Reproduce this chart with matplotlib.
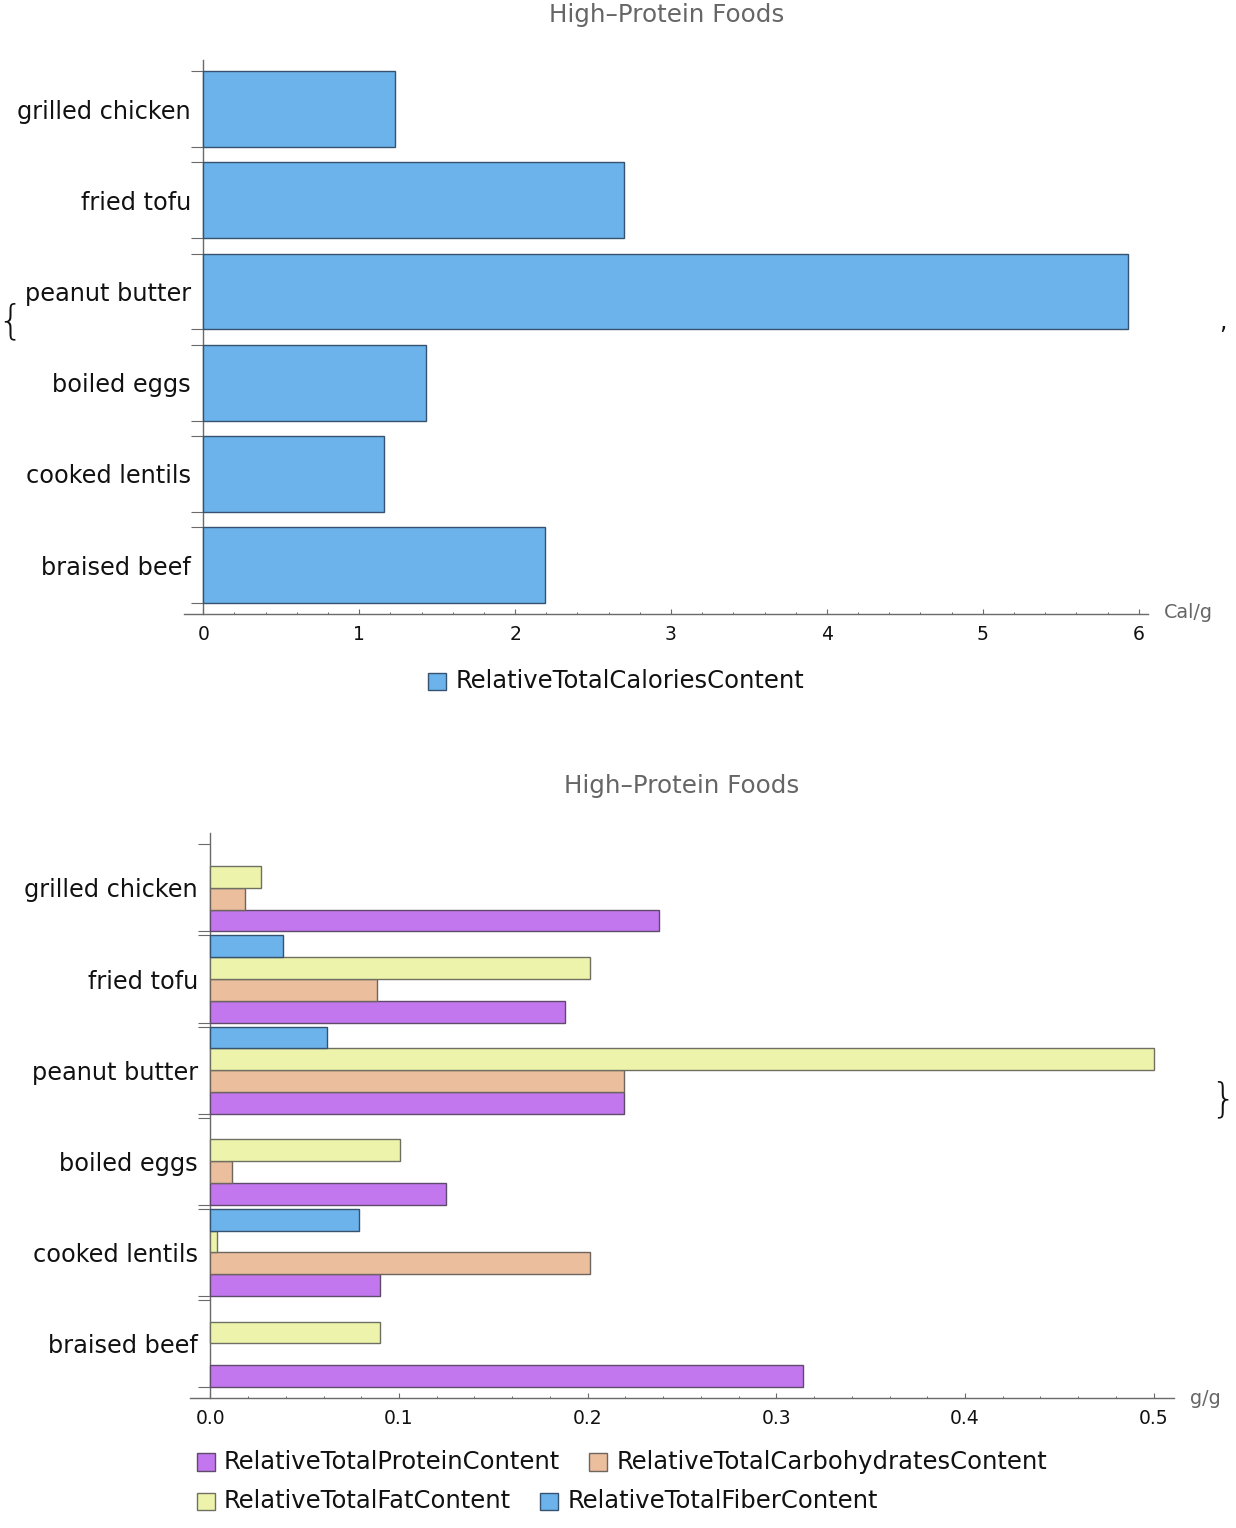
import matplotlib
matplotlib.use("Agg")
import matplotlib.pyplot as plt
from matplotlib.patches import Rectangle
from matplotlib.ticker import FixedLocator, MultipleLocator
import numpy as np

# ---------------- data ----------------
foods = ["grilled chicken", "fried tofu", "peanut butter",
         "boiled eggs", "cooked lentils", "braised beef"]
calories = [1.232, 2.699, 5.93, 1.428, 1.161, 2.194]          # Cal/g
protein = [0.238, 0.188, 0.219, 0.1247, 0.090, 0.314]          # g/g
carbs = [0.0186, 0.0885, 0.219, 0.0113, 0.201, 0.0]
fat = [0.027, 0.2014, 0.500, 0.1003, 0.0038, 0.0901]
fiber = [0.0, 0.0387, 0.062, 0.0, 0.079, 0.0]

title_text = "High\u2013Protein Foods"
unit1 = "Cal/g"
unit2 = "g/g"
legend1_labels = ["RelativeTotalCaloriesContent"]
legend2_labels = ["RelativeTotalProteinContent", "RelativeTotalCarbohydratesContent",
                  "RelativeTotalFatContent", "RelativeTotalFiberContent"]
ticks1 = [0, 1, 2, 3, 4, 5, 6]
tick_labels1 = ["0", "1", "2", "3", "4", "5", "6"]
ticks2 = [0.0, 0.1, 0.2, 0.3, 0.4, 0.5]
tick_labels2 = ["0.0", "0.1", "0.2", "0.3", "0.4", "0.5"]

# ---------------- style ----------------
W, H = 1236, 1528
DPI = 100
BLUE, PURPLE, PEACH, YELLOW = "#6CB3EC", "#C377EE", "#EBBE9E", "#EDF3AB"
EDGES = {BLUE: "#35526E", PURPLE: "#5E4A6A", PEACH: "#6E655E", YELLOW: "#6F6F62"}
AXC = "#6A6A6A"
GRAY_TXT = "#666666"
FONT = "DejaVu Sans"
plt.rcParams["font.family"] = [FONT]

LABEL_FS = 17.3
LFS = 17.5
TITLE_FS = 17.7
TICK_FS = 13.5

fig = plt.figure(figsize=(W / DPI, H / DPI), dpi=DPI)


def px_rect(left, right, top, bottom):
    return [left / W, 1 - bottom / H, (right - left) / W, (bottom - top) / H]


def px2pt(p):
    return p * 72.0 / DPI


def style_axes(ax, edges, xmaj, xlabels, xminor_step):
    for s in ("top", "right"):
        ax.spines[s].set_visible(False)
    ax.spines["left"].set_position(("data", 0))
    for s in ("left", "bottom"):
        ax.spines[s].set_color(AXC)
        ax.spines[s].set_linewidth(1.0)
    n = len(foods)
    ax.yaxis.set_major_locator(FixedLocator(np.arange(n)))
    ax.set_yticklabels(foods, fontsize=LABEL_FS, color="#111111")
    ax.yaxis.set_minor_locator(FixedLocator(edges))
    ax.tick_params(axis="y", which="major", length=0, pad=px2pt(12.3))
    ax.tick_params(axis="y", which="minor", length=px2pt(12), width=0.8,
                   color=AXC, direction="out")
    ax.set_xticks(xmaj)
    ax.set_xticklabels(xlabels, fontsize=TICK_FS, color="#111111")
    ax.xaxis.set_minor_locator(MultipleLocator(xminor_step))
    ax.tick_params(axis="x", which="major", length=px2pt(5), width=0.8,
                   color=AXC, direction="in", pad=px2pt(11))
    ax.tick_params(axis="x", which="minor", length=px2pt(2.5), width=0.7,
                   color=AXC, direction="in")


# ---------------- chart 1 ----------------
ax1 = fig.add_axes(px_rect(184.3, 1148, 60, 614.3))
y = np.arange(len(foods))
bh1 = 0.832
ax1.barh(y, calories, height=bh1, color=BLUE, edgecolor=EDGES[BLUE], linewidth=1.0, zorder=3)
ax1.set_xlim(-0.1219, 6.0597)
ax1.set_ylim(len(foods) - 0.46, -0.54)
edges1 = np.sort(np.concatenate([y - bh1 / 2, y + bh1 / 2]))
style_axes(ax1, edges1, ticks1, tick_labels1, 0.2)

# ---------------- chart 2 ----------------
ax2 = fig.add_axes(px_rect(190, 1173.7, 833.3, 1398))
grp = 0.956
bh2 = grp / 4
series2 = [(protein, PURPLE), (carbs, PEACH), (fat, YELLOW), (fiber, BLUE)]
for k, (vals, col) in enumerate(series2):
    offs = (1.5 - k) * bh2          # first series at the bottom of each group
    lw = [1.0 if v > 0 else 0.0 for v in vals]
    ax2.barh(y + offs, vals, height=bh2, color=col, edgecolor=EDGES[col],
             linewidth=lw, zorder=3)
ax2.set_xlim(-0.01076, 0.5106)
ax2.set_ylim(len(foods) - 0.4, -0.6)
edges2 = np.sort(np.concatenate([y - grp / 2, y + grp / 2]))
style_axes(ax2, edges2, ticks2, tick_labels2, 0.02)

# ---------------- titles & unit labels ----------------
fig.text(666.2 / W, 1 - 15 / H, title_text, ha="center", va="center",
         fontsize=TITLE_FS, color=GRAY_TXT)
fig.text(681.9 / W, 1 - 786 / H, title_text, ha="center", va="center",
         fontsize=TITLE_FS, color=GRAY_TXT)
fig.text(1164 / W, 1 - 613 / H, unit1, ha="left", va="center", fontsize=13.8, color=GRAY_TXT)
fig.text(1190 / W, 1 - 1398 / H, unit2, ha="left", va="center", fontsize=13.8, color=GRAY_TXT)

# ---------------- legends (manual, Mathematica-like) ----------------
fig.canvas.draw()
renderer = fig.canvas.get_renderer()


def text_width(s, size):
    t = fig.text(0, 0, s, fontsize=size)
    w = t.get_window_extent(renderer).width
    t.remove()
    return w


BOX = 17.5
GAP_BOX_TXT = 9.5
GAP_ITEMS = 29


def draw_item(x, yc, label, col):
    fig.patches.append(Rectangle(((x) / W, 1 - (yc + BOX / 2) / H), BOX / W, BOX / H,
                                 transform=fig.transFigure, facecolor=col,
                                 edgecolor=EDGES[col], linewidth=1.0))
    fig.text((x + BOX + GAP_BOX_TXT) / W, 1 - yc / H, label, ha="left", va="center",
             fontsize=LFS, color="#111111")
    return x + BOX + GAP_BOX_TXT + text_width(label, LFS)


# chart 1 legend
w1 = BOX + GAP_BOX_TXT + text_width(legend1_labels[0], LFS)
draw_item(W / 2 - 2 - w1 / 2, 681.5, legend1_labels[0], BLUE)

# chart 2 legend (two rows, flowing)
cols2 = [PURPLE, PEACH, YELLOW, BLUE]
row1_w = (2 * (BOX + GAP_BOX_TXT) + GAP_ITEMS
          + text_width(legend2_labels[0], LFS) + text_width(legend2_labels[1], LFS))
x0 = W / 2 + 4 - row1_w / 2
xe = draw_item(x0, 1462, legend2_labels[0], cols2[0])
draw_item(xe + GAP_ITEMS, 1462, legend2_labels[1], cols2[1])
xe = draw_item(x0, 1501.5, legend2_labels[2], cols2[2])
draw_item(xe + GAP_ITEMS, 1501.5, legend2_labels[3], cols2[3])

# ---------------- list braces ----------------
fig.text(-3 / W, 1 - 322 / H, "{", ha="left", va="center", fontsize=29,
         color="#111111", fontweight="light")
fig.text(1223 / W, 1 - 322 / H, ",", ha="center", va="center", fontsize=17, color="#111111")
fig.text(1236 / W, 1 - 1100 / H, "}", ha="right", va="center", fontsize=29,
         color="#111111", fontweight="light")

fig.savefig("out.png", dpi=DPI)
